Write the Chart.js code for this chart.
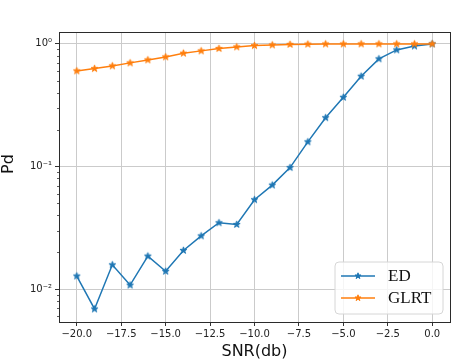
<!DOCTYPE html>
<html>
<head>
<meta charset="utf-8">
<script src="https://cdn.jsdelivr.net/npm/chart.js@4/dist/chart.umd.min.js"></script>
<style>
  html, body { margin: 0; padding: 0; background: #fff; }
  #wrap { width: 474px; height: 362px; }
</style>
</head>
<body>
<div id="wrap"><canvas id="pdChart" width="474" height="362"></canvas></div>
<script>
// données
const snr = [-20, -19, -18, -17, -16, -15, -14, -13, -12, -11, -10, -9, -8, -7, -6, -5, -4, -3, -2, -1, 0];
const pdED = [0.0128, 0.0069, 0.0158, 0.0108, 0.0186, 0.0140, 0.0207, 0.0272, 0.0348, 0.0337, 0.0536,
  0.0706, 0.098, 0.159, 0.25, 0.367, 0.545, 0.755, 0.893, 0.96, 1.0];
const pdGLRT = [0.602, 0.629, 0.661, 0.70, 0.74, 0.783, 0.839, 0.877, 0.916, 0.945, 0.968,
  0.98, 0.99, 0.995, 0.998, 0.999, 1.0, 1.0, 1.0, 1.0, 1.0];
const xTicks = [-20, -17.5, -15, -12.5, -10, -7.5, -5, -2.5, 0];
const yTicks = [0.01, 0.1, 1];
const yTickLabels = ['10\u207B\u00B2', '10\u207B\u00B9', '10\u2070'];
const seriesNames = ['ED', 'GLRT'];
const seriesColors = ['#1f77b4', '#ff7f0e'];

function makeStar(color, r) {
  const size = Math.ceil(r * 2 + 3);
  const c = document.createElement('canvas');
  c.width = size; c.height = size;
  const g = c.getContext('2d');
  const cx = size / 2, cy = size / 2;
  g.beginPath();
  for (let i = 0; i < 10; i++) {
    const rad = i % 2 === 0 ? r : r * 0.382;
    const a = -Math.PI / 2 + i * Math.PI / 5;
    const px = cx + rad * Math.cos(a), py = cy + rad * Math.sin(a);
    if (i === 0) g.moveTo(px, py); else g.lineTo(px, py);
  }
  g.closePath();
  g.fillStyle = color;
  g.fill();
  g.lineWidth = 1;
  g.strokeStyle = color;
  g.lineJoin = 'miter';
  g.stroke();
  return c;
}

const stars = seriesColors.map(c => makeStar(c, 3.6));
const legendStars = seriesColors.map(c => makeStar(c, 3.2));

const frameAndExtras = {
  id: 'frameAndExtras',
  afterDraw(chart) {
    const ctx = chart.ctx;
    const a = chart.chartArea;
    const ys = chart.scales.y;
    ctx.save();
    // minor ticks on log axis
    ctx.strokeStyle = '#333';
    ctx.lineWidth = 0.8;
    [0.001, 0.01, 0.1].forEach(d => {
      for (let k = 2; k <= 9; k++) {
        const v = d * k;
        if (v < ys.min || v > ys.max) continue;
        const py = Math.round(ys.getPixelForValue(v)) + 0.5;
        ctx.beginPath();
        ctx.moveTo(a.left - 2, py);
        ctx.lineTo(a.left, py);
        ctx.stroke();
      }
    });
    // frame
    ctx.strokeStyle = '#2b2b2b';
    ctx.lineWidth = 1;
    ctx.strokeRect(Math.round(a.left) + 0.5, Math.round(a.top) + 0.5,
      Math.round(a.right - a.left), Math.round(a.bottom - a.top));

    // legend
    const lx = 335, ly = 262, lw = 108, lh = 52, rr = 4;
    ctx.beginPath();
    ctx.moveTo(lx + rr, ly);
    ctx.arcTo(lx + lw, ly, lx + lw, ly + lh, rr);
    ctx.arcTo(lx + lw, ly + lh, lx, ly + lh, rr);
    ctx.arcTo(lx, ly + lh, lx, ly, rr);
    ctx.arcTo(lx, ly, lx + lw, ly, rr);
    ctx.closePath();
    ctx.fillStyle = 'rgba(255,255,255,0.8)';
    ctx.fill();
    ctx.strokeStyle = '#d6d6d6';
    ctx.lineWidth = 1;
    ctx.stroke();
    const rows = [276, 298];
    seriesNames.forEach((name, i) => {
      const y = rows[i];
      ctx.strokeStyle = seriesColors[i];
      ctx.lineWidth = 1.5;
      ctx.beginPath();
      ctx.moveTo(341, y);
      ctx.lineTo(375, y);
      ctx.stroke();
      const s = legendStars[i];
      ctx.drawImage(s, 358 - s.width / 2, y - s.height / 2);
      ctx.fillStyle = '#111';
      ctx.font = '17px "Liberation Serif", "DejaVu Serif", serif';
      ctx.textAlign = 'left';
      ctx.textBaseline = 'middle';
      ctx.fillText(name, 388, y + 1);
    });

    // axis titles
    ctx.fillStyle = '#111';
    ctx.font = '16px "DejaVu Sans", sans-serif';
    ctx.textAlign = 'center';
    ctx.textBaseline = 'middle';
    ctx.fillText('SNR(db)', (a.left + a.right) / 2, 352);
    ctx.translate(9, 164);
    ctx.rotate(-Math.PI / 2);
    ctx.fillText('Pd', 0, 0);
    ctx.restore();
  }
};

const tickFont = { family: '"DejaVu Sans", sans-serif', size: 10 };

new Chart(document.getElementById('pdChart'), {
  type: 'line',
  data: {
    datasets: [
      {
        label: seriesNames[0],
        data: snr.map((x, i) => ({ x: x, y: pdED[i] })),
        borderColor: seriesColors[0],
        backgroundColor: seriesColors[0],
        borderWidth: 1.5,
        pointStyle: stars[0],
        tension: 0,
        order: 2
      },
      {
        label: seriesNames[1],
        data: snr.map((x, i) => ({ x: x, y: pdGLRT[i] })),
        borderColor: seriesColors[1],
        backgroundColor: seriesColors[1],
        borderWidth: 1.5,
        pointStyle: stars[1],
        tension: 0,
        order: 1
      }
    ]
  },
  options: {
    responsive: false,
    animation: false,
    devicePixelRatio: 1,
    layout: { padding: { left: 0, top: 32, right: 24, bottom: 0 } },
    plugins: {
      legend: { display: false },
      tooltip: { enabled: false }
    },
    scales: {
      x: {
        type: 'linear',
        min: -21,
        max: 1,
        afterBuildTicks: s => { s.ticks = xTicks.map(v => ({ value: v })); },
        afterFit: s => { s.height = 40; },
        ticks: {
          font: tickFont,
          color: '#222',
          padding: 2,
          maxRotation: 0,
          callback: v => v.toFixed(1).replace('-', '\u2212')
        },
        grid: { color: '#cbcbcb', lineWidth: 1, tickLength: 4, tickColor: '#333', tickWidth: 1 },
        border: { display: false }
      },
      y: {
        type: 'logarithmic',
        min: 0.0054,
        max: 1.25,
        afterBuildTicks: s => { s.ticks = yTicks.map(v => ({ value: v })); },
        afterFit: s => { s.width = 59; },
        ticks: {
          font: tickFont,
          color: '#222',
          padding: 3,
          callback: v => yTickLabels[yTicks.indexOf(v)]
        },
        grid: { color: '#cbcbcb', lineWidth: 1, tickLength: 4, tickColor: '#333', tickWidth: 1 },
        border: { display: false }
      }
    }
  },
  plugins: [frameAndExtras]
});
</script>
</body>
</html>
